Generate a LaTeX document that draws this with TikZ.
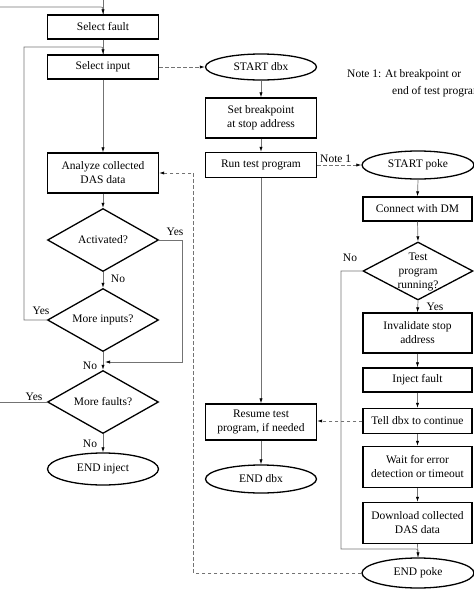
\documentclass[tikz,border=0pt]{standalone}
\usepackage{fontspec}
\setmainfont{Liberation Serif}
\usetikzlibrary{shapes.geometric,arrows.meta}
\begin{document}
\begin{tikzpicture}[x=1pt,y=-1pt,
  font=\fontsize{11.5}{14}\selectfont,
  box/.style={draw=black,line width=1.3pt,minimum width=111pt,inner sep=0pt,align=center},
  pbox/.style={box,minimum width=109pt},
  term/.style={ellipse,draw=black,line width=1.3pt,minimum width=111pt,minimum height=28pt,inner sep=0pt},
  dia/.style={diamond,draw=black,line width=1.3pt,minimum width=111pt,minimum height=63pt,inner sep=0pt},
  conn/.style={draw=black!55,line width=0.7pt},
  arr/.style={conn,-{Latex[length=5pt,width=3.2pt,color=black]}},
  dconn/.style={conn,dash pattern=on 3.5pt off 2.5pt},
  darr/.style={dconn,-{Latex[length=5pt,width=3.2pt,color=black]}},
  lab/.style={inner sep=0pt,align=center}]
\useasboundingbox (0,0) rectangle (474,590);

% left column
\node[box,minimum height=24pt] (sf) at (103,27) {Select fault};
\node[box,minimum height=24pt] (si) at (103,67) {Select input};
\node[box,minimum height=40pt] (an) at (103,173) {Analyze collected\\DAS data};
\node[dia] (act) at (103,240) {};
\node[lab] (actt) at (act) {Activated?};
\node[dia] (mi) at (103,320) {};
\node[lab] (mit) at (mi) {More inputs?};
\node[dia] (mf) at (103,402) {};
\node[lab] (mft) at (mf) {More faults?};
\node[term,minimum height=32pt] (endi) at (103,469) {END inject};

% middle column
\node[term,minimum height=26pt] (sd) at (261,67) {START dbx};
\node[box,minimum height=40pt] (sb) at (261,118) {Set breakpoint\\at stop address};
\node[box,minimum height=25pt] (rt) at (261,165) {Run test program};
\node[box,minimum height=36pt] (rs) at (261,422) {Resume test\\program, if needed};
\node[term] (endd) at (261,479) {END dbx};

% right column
\node[term,minimum width=112pt] (sp) at (418,165) {START poke};
\node[pbox,minimum height=24pt] (cd) at (417.5,209) {Connect with DM};
\node[dia,minimum width=110pt,minimum height=58pt] (tp) at (418,271) {};
\node[lab] (tpt) at (418,272) {Test\\program\\running?};
\node[pbox,minimum height=40pt] (iv) at (417.5,333) {Invalidate stop\\address};
\node[pbox,minimum height=24pt] (inj) at (417.5,380) {Inject fault};
\node[pbox,minimum height=25pt] (tell) at (417.5,421) {Tell dbx to continue};
\node[pbox,minimum height=41pt] (wait) at (417.5,467) {Wait for error\\detection or timeout};
\node[pbox,minimum height=41pt] (dl) at (417.5,523) {Download collected\\DAS data};
\node[term,minimum width=112pt,minimum height=30pt] (endp) at (418,573) {END poke};

% note
\node[lab,anchor=west] (n1) at (347,75) {Note 1: At breakpoint or};
\node[lab,anchor=west] (n2) at (392,92) {end of test program};

% coordinates
\coordinate (topT) at (103,0);
\coordinate (topL) at (0,7);
\coordinate (loopL) at (24,47);
\coordinate (j1) at (105,362);
\coordinate (mfL) at (0,402);
\coordinate (noL) at (341,549);

% left connectors
\draw[conn] (topT) -- (sf.north);
\draw[arr] (topL) -- ([xshift=-5pt]topL -| sf.north) .. controls (topL -| sf.north) .. (sf.north);
\draw[conn] (sf.south) -- (si.north);
\draw[arr] (mi.west) -| (loopL) -- ([xshift=-5pt]loopL -| si.north) .. controls (loopL -| si.north) .. (si.north);
\draw[arr] (si.south) -- (an.north);
\draw[arr] (an.south) -- (act.north);
\draw[arr] (act.south) -- (mi.north);
\draw[arr] (mi.south) -- (mf.north);
\draw[arr] (act.east) -- ++(23,0) |- (j1);
\draw[conn] (mf.west) -- (mfL);
\draw[arr] (mf.south) -- (endi.north);

\node[lab] (y1) at (175,232) {Yes};
\node[lab] (n1a) at (118,279) {No};
\node[lab] (y2) at (41,311) {Yes};
\node[lab] (n2a) at (90,366) {No};
\node[lab] (y3) at (34,397) {Yes};
\node[lab] (n3a) at (90,444) {No};

% middle connectors
\draw[darr] (si.east) -- (sd.west);
\draw[arr] (sd.south) -- (sb.north);
\draw[arr] (sb.south) -- (rt.north);
\draw[arr] (rt.south) -- (rs.north);
\draw[arr] (rs.south) -- (endd.north);
\draw[darr] (rt.east) -- node[lab,above=2pt,pos=0.42] (nl) {Note 1} (sp.west);

% right connectors
\draw[arr] (sp.south) -- (cd.north);
\draw[arr] (cd.south) -- (tp.north);
\draw[arr] (tp.south) -- (iv.north);
\draw[arr] (iv.south) -- (inj.north);
\draw[arr] (inj.south) -- (tell.north);
\draw[arr] (tell.south) -- (wait.north);
\draw[arr] (wait.south) -- (dl.north);
\draw[conn] (dl.south) -- (endp.north);
\draw[arr] (tp.west) -| (noL) -- ([xshift=-5pt]noL -| endp.north) .. controls (noL -| endp.north) .. (endp.north);
\node[lab] (n4) at (350,258) {No};
\node[lab] (y4) at (435,307) {Yes};

% dashed cross links
\draw[darr] (tell.west) -- (tell.west -| rs.east);
\draw[darr] (endp.west) -| ([xshift=34.5pt]an.east) -- (an.east);
\end{tikzpicture}
\end{document}
